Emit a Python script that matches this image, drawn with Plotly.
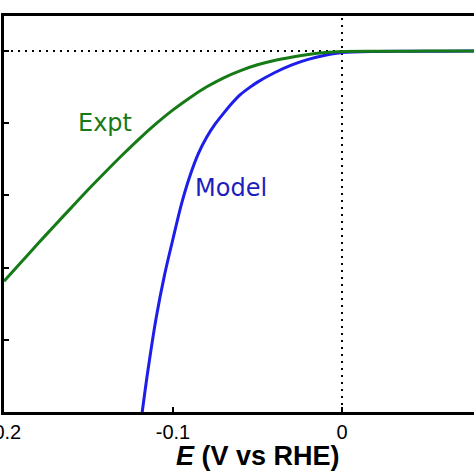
import plotly.graph_objects as go

# Experimental curve (E in V vs RHE, normalized current)
expt_E = [-0.20, -0.19, -0.18, -0.17, -0.16, -0.15, -0.14, -0.13, -0.12, -0.11,
          -0.10, -0.09, -0.08, -0.07, -0.06, -0.05, -0.04, -0.03, -0.02, -0.01,
          0.0, 0.02, 0.04, 0.06, 0.08]
expt_j = [-3.19, -2.93, -2.67, -2.415, -2.165, -1.915, -1.675, -1.44, -1.215, -1.005,
          -0.815, -0.645, -0.495, -0.37, -0.27, -0.19, -0.13, -0.085, -0.048, -0.02,
          -0.005, -0.002, -0.001, 0.0, 0.0]

# Model curve
model_E = [-0.1185, -0.115, -0.11, -0.105, -0.10, -0.095, -0.09, -0.085, -0.08, -0.075,
           -0.07, -0.065, -0.06, -0.055, -0.05, -0.04, -0.03, -0.02, -0.01, 0.0,
           0.02, 0.04, 0.06, 0.08]
model_j = [-5.05, -4.45, -3.70, -3.10, -2.60, -2.12, -1.73, -1.42, -1.19, -1.01,
           -0.86, -0.72, -0.60, -0.51, -0.43, -0.30, -0.195, -0.115, -0.058, -0.02,
           -0.005, -0.002, -0.001, 0.0]

x_tickvals = [-0.2, -0.1, 0.0]
x_ticktext = ["-0.2", "-0.1", "0"]
y_tickvals = [0, -1, -2, -3, -4, -5]

x_range = [-0.2, 0.0781]
y_range = [-5.0, 0.486]

fig = go.Figure()

fig.add_trace(go.Scatter(x=model_E, y=model_j, mode="lines",
                         line=dict(color="rgb(30,30,235)", width=3, shape="spline", smoothing=0.8),
                         showlegend=False))
fig.add_trace(go.Scatter(x=expt_E, y=expt_j, mode="lines",
                         line=dict(color="rgb(22,122,22)", width=3, shape="spline", smoothing=0.8),
                         showlegend=False))

# dotted reference lines
fig.add_shape(type="line", xref="x", yref="paper", x0=0, x1=0, y0=0, y1=1,
              line=dict(color="black", width=2, dash="2px,5px"), layer="below")
fig.add_shape(type="line", xref="paper", yref="y", x0=0, x1=1, y0=0, y1=0,
              line=dict(color="black", width=2, dash="2px,5px"), layer="below")

fig.add_annotation(x=-0.140, y=-0.99, text="Expt", showarrow=False,
                   font=dict(family="DejaVu Sans", size=24, color="rgb(22,122,22)"))
fig.add_annotation(x=-0.0657, y=-1.89, text="Model", showarrow=False,
                   font=dict(family="DejaVu Sans", size=24, color="rgb(30,30,190)"))

fig.add_annotation(x=-0.05, xref="x", y=-0.155, yref="paper", yanchor="bottom",
                   text="<b><i>E</i> (V vs RHE)</b>", showarrow=False,
                   font=dict(family="Liberation Sans", size=27, color="black"))

fig.update_layout(
    width=474, height=474,
    margin=dict(l=4, r=0, t=16, b=62),
    paper_bgcolor="white", plot_bgcolor="white",
    template="none",
    font=dict(family="Liberation Sans", color="black"),
)
fig.update_xaxes(range=x_range, tickvals=x_tickvals, ticktext=x_ticktext,
                 showgrid=False, zeroline=False, showline=True, linecolor="black",
                 linewidth=2.5, mirror=True, ticks="inside", ticklen=5, tickwidth=2,
                 tickcolor="black", tickfont=dict(size=20, color="black"),
                 ticklabeloverflow="allow", automargin=False)
fig.update_yaxes(range=y_range, tickvals=y_tickvals, showticklabels=False,
                 showgrid=False, zeroline=False, showline=True, linecolor="black",
                 linewidth=2.5, mirror=False, ticks="inside", ticklen=5, tickwidth=2,
                 tickcolor="black", automargin=False)

fig.write_html("out.html", config={"displayModeBar": False},
               post_script="document.body.style.margin='0';document.body.style.overflow='hidden';")
